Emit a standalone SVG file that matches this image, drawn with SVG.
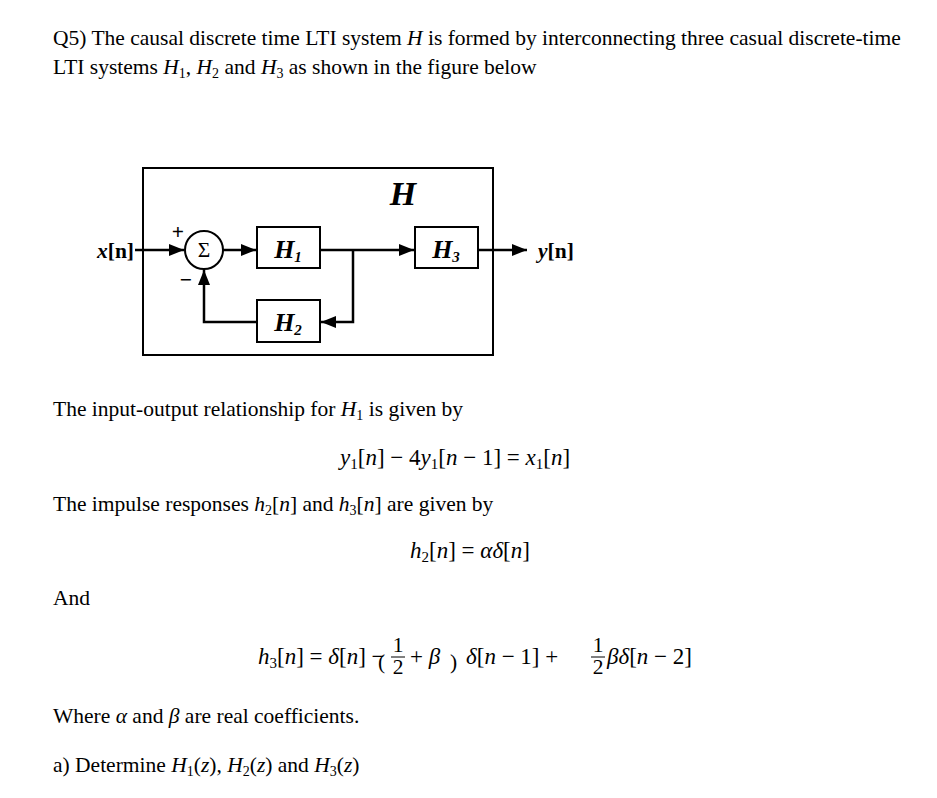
<svg xmlns="http://www.w3.org/2000/svg" width="937" height="798" viewBox="0 0 937 798">
<style>
.t{font-family:"Liberation Serif",serif;font-size:21.5px;fill:#000}
.e{font-family:"Liberation Serif",serif;font-size:23px;fill:#000}
.d{font-family:"Liberation Serif",serif;font-weight:bold;font-style:italic;fill:#000}
.ln{stroke:#000;stroke-width:2.5;fill:none}
.bx{stroke:#000;stroke-width:2;fill:#fff}
</style>
<defs><marker id="a" viewBox="0 0 10 10" refX="10" refY="5" markerWidth="9" markerHeight="6" markerUnits="strokeWidth" orient="auto"><path d="M0,1 L10,5 L0,9z" fill="#000"/></marker></defs>
<rect width="937" height="798" fill="#fff"/>
<text class="t" x="53" y="45">Q5) The causal discrete time LTI system <tspan font-style="italic">H</tspan> is formed by interconnecting three casual discrete-time</text>
<text class="t" x="53" y="74">LTI systems <tspan font-style="italic">H</tspan><tspan font-size="14" dy="4">1</tspan><tspan dy="-4">, </tspan><tspan font-style="italic">H</tspan><tspan font-size="14" dy="4">2</tspan><tspan dy="-4"> and </tspan><tspan font-style="italic">H</tspan><tspan font-size="14" dy="4">3</tspan><tspan dy="-4"> as shown in the figure below</tspan></text>
<g id="frame"><rect x="143" y="168" width="350" height="187" fill="none" stroke="#000" stroke-width="2"/>
<text class="d" x="403" y="205" font-size="34" text-anchor="middle">H</text></g>
<g id="conn">
<path class="ln" d="M135,250 H184" marker-end="url(#a)"/>
<path class="ln" d="M223,250 H256" marker-end="url(#a)"/>
<path class="ln" d="M320,250 H414" marker-end="url(#a)"/>
<path class="ln" d="M353,250 V322 H321" marker-end="url(#a)"/>
<path class="ln" d="M257,322 H204 V270" marker-end="url(#a)"/>
<path class="ln" d="M478,250 H527" marker-end="url(#a)"/>
</g>
<g id="sum"><circle class="bx" cx="204" cy="250" r="19"/><text class="t" x="204" y="257" font-size="20" text-anchor="middle">Σ</text>
<text class="t" x="178" y="239" font-size="24" font-weight="bold" text-anchor="middle">+</text><text class="t" x="186" y="287" font-size="26" font-weight="bold" text-anchor="middle">−</text></g>
<g id="H1"><rect class="bx" x="257" y="227" width="63" height="41"/><text class="d" x="288" y="258" font-size="26" text-anchor="middle">H<tspan font-size="15" dy="4">1</tspan></text></g>
<g id="H2"><rect class="bx" x="257" y="300" width="63" height="42"/><text class="d" x="288" y="331" font-size="26" text-anchor="middle">H<tspan font-size="15" dy="4">2</tspan></text></g>
<g id="H3"><rect class="bx" x="415" y="227" width="63" height="41"/><text class="d" x="446" y="258" font-size="26" text-anchor="middle">H<tspan font-size="15" dy="4">3</tspan></text></g>
<text class="t" x="134" y="258" font-weight="bold" font-size="24" text-anchor="end"><tspan font-style="italic">x</tspan>[n]</text>
<text class="t" x="538" y="258" font-weight="bold" font-size="24"><tspan font-style="italic">y</tspan>[n]</text>
<text class="t" x="53" y="416">The input-output relationship for <tspan font-style="italic">H</tspan><tspan font-size="14" dy="4">1</tspan><tspan dy="-4"> is given by</tspan></text>
<text class="e" x="340" y="465"><tspan font-style="italic">y</tspan><tspan font-size="15" dy="4">1</tspan><tspan dy="-4">[</tspan><tspan font-style="italic">n</tspan>] − 4<tspan font-style="italic">y</tspan><tspan font-size="15" dy="4">1</tspan><tspan dy="-4">[</tspan><tspan font-style="italic">n</tspan> − 1] = <tspan font-style="italic">x</tspan><tspan font-size="15" dy="4">1</tspan><tspan dy="-4">[</tspan><tspan font-style="italic">n</tspan>]</text>
<text class="t" x="53" y="511">The impulse responses <tspan font-style="italic">h</tspan><tspan font-size="14" dy="4">2</tspan><tspan dy="-4">[</tspan><tspan font-style="italic">n</tspan>] and <tspan font-style="italic">h</tspan><tspan font-size="14" dy="4">3</tspan><tspan dy="-4">[</tspan><tspan font-style="italic">n</tspan>] are given by</text>
<text class="e" x="410" y="558"><tspan font-style="italic">h</tspan><tspan font-size="15" dy="4">2</tspan><tspan dy="-4">[</tspan><tspan font-style="italic">n</tspan>] = <tspan font-style="italic">αδ</tspan>[<tspan font-style="italic">n</tspan>]</text>
<text class="t" x="53" y="605">And</text>
<text class="e" x="258" y="664"><tspan font-style="italic">h</tspan><tspan font-size="15" dy="4">3</tspan><tspan dy="-4">[</tspan><tspan font-style="italic">n</tspan>] = <tspan font-style="italic">δ</tspan>[<tspan font-style="italic">n</tspan>] −</text>
<text class="t" x="378" y="669" font-size="34">(</text>
<text class="t" x="398" y="652" font-size="17" text-anchor="middle">1</text>
<line x1="391" y1="657" x2="405" y2="657" stroke="#000" stroke-width="1"/>
<text class="t" x="398" y="674" font-size="17" text-anchor="middle">2</text>
<text class="e" x="410" y="664">+ <tspan font-style="italic">β</tspan></text>
<text class="t" x="450" y="669" font-size="34">)</text>
<text class="e" x="466" y="664"><tspan font-style="italic">δ</tspan>[<tspan font-style="italic">n</tspan> − 1] +</text>
<text class="t" x="598" y="652" font-size="17" text-anchor="middle">1</text>
<line x1="591" y1="657" x2="605" y2="657" stroke="#000" stroke-width="1"/>
<text class="t" x="598" y="674" font-size="17" text-anchor="middle">2</text>
<text class="e" x="607" y="664"><tspan font-style="italic">βδ</tspan>[<tspan font-style="italic">n</tspan> − 2]</text>
<text class="t" x="53" y="723">Where <tspan font-style="italic">α</tspan> and <tspan font-style="italic">β</tspan> are real coefficients.</text>
<text class="t" x="53" y="772">a) Determine <tspan font-style="italic">H</tspan><tspan font-size="14" dy="4">1</tspan><tspan dy="-4">(</tspan><tspan font-style="italic">z</tspan>), <tspan font-style="italic">H</tspan><tspan font-size="14" dy="4">2</tspan><tspan dy="-4">(</tspan><tspan font-style="italic">z</tspan>) and <tspan font-style="italic">H</tspan><tspan font-size="14" dy="4">3</tspan><tspan dy="-4">(</tspan><tspan font-style="italic">z</tspan>)</text>
</svg>
